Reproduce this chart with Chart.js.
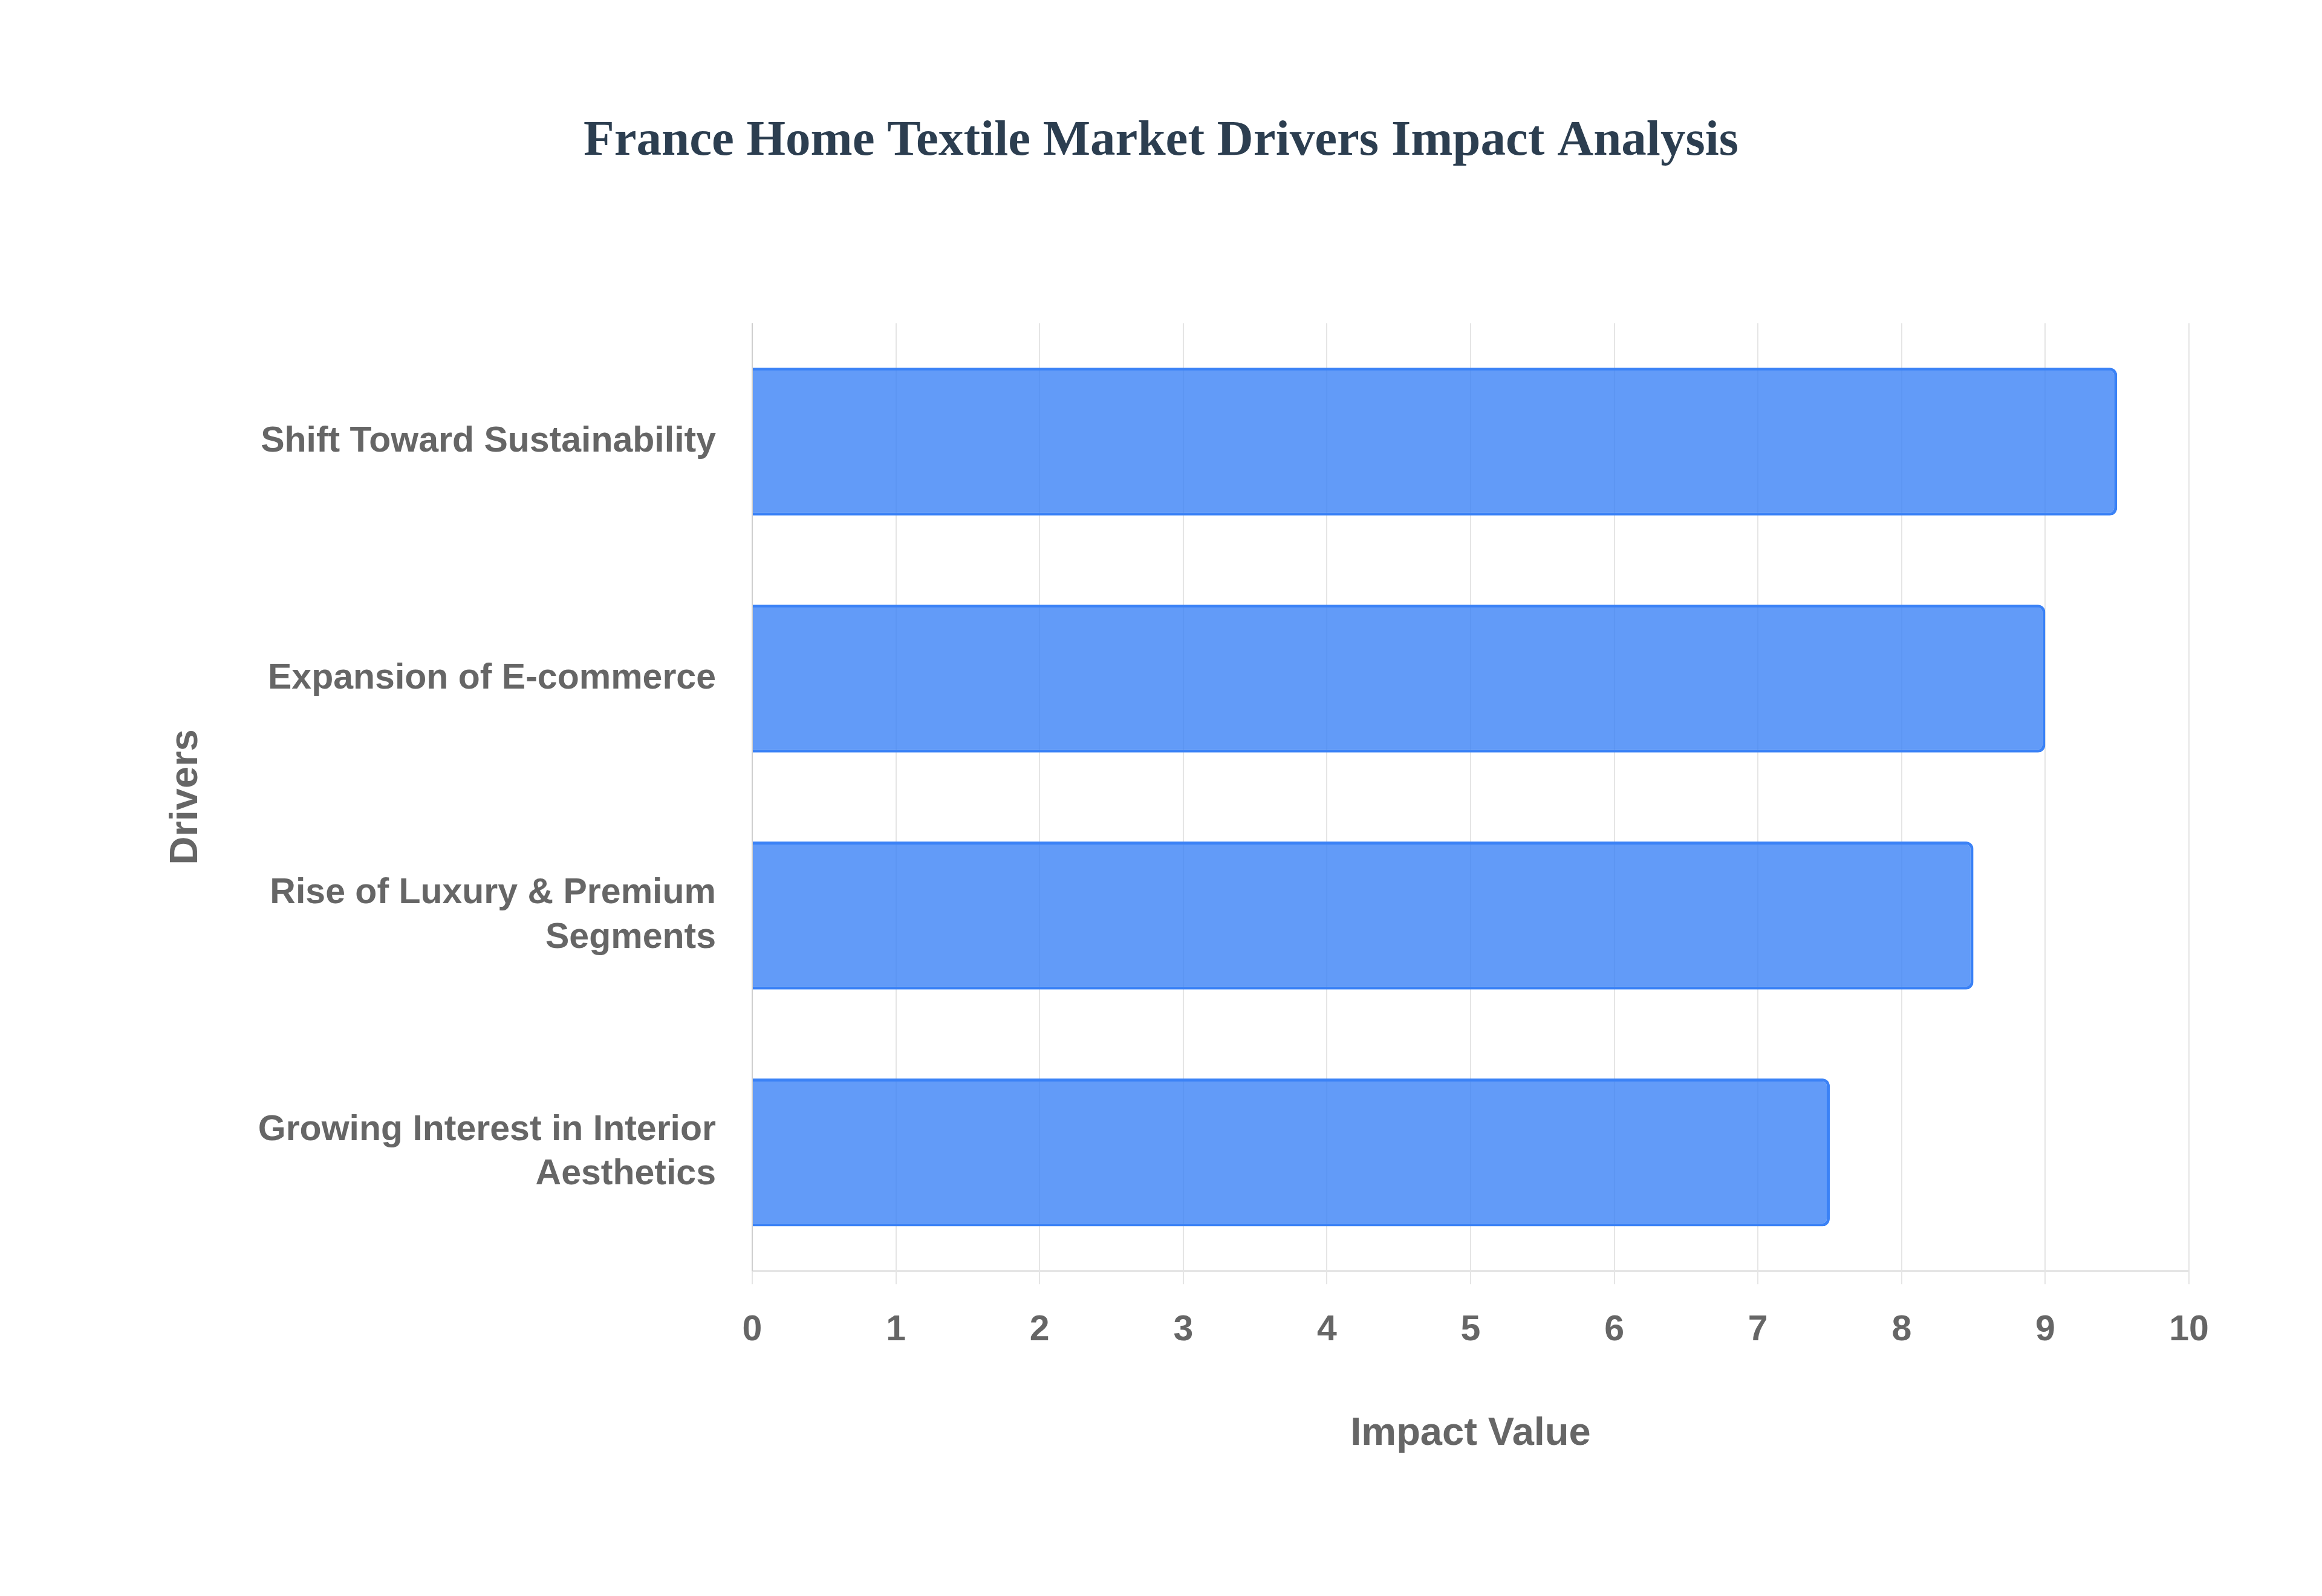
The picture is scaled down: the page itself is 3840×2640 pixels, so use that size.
<!DOCTYPE html>
<html>
<head>
<meta charset="utf-8">
<script src="https://cdn.jsdelivr.net/npm/chart.js@4.4.1/dist/chart.umd.min.js"></script>
<style>
  html, body { margin: 0; padding: 0; background: #ffffff; }
  #wrap { width: 3840px; height: 2640px; }
</style>
</head>
<body>
<div id="wrap"><canvas id="c" width="3840" height="2640"></canvas></div>
<script>
const titleText = "France Home Textile Market Drivers Impact Analysis";
const categories = [
  "Shift Toward Sustainability",
  ["Expansion of E-commerce"],
  ["Rise of Luxury & Premium", "Segments"],
  ["Growing Interest in Interior", "Aesthetics"]
];
const impactValues = [9.5, 9.0, 8.5, 7.5];
const xTickMin = 0;
const xTickMax = 10;
const xAxisTitle = "Impact Value";
const yAxisTitle = "Drivers";

const tickFont = { family: "'Liberation Sans', Arial, Helvetica, sans-serif", size: 59, weight: "bold", lineHeight: 1.25 };
const axisTitleFont = { family: "'Liberation Sans', Arial, Helvetica, sans-serif", size: 65, weight: "bold" };

new Chart(document.getElementById("c"), {
  type: "bar",
  data: {
    labels: categories,
    datasets: [{
      label: "Impact",
      data: impactValues,
      backgroundColor: "rgba(59,130,246,0.8)",
      borderColor: "rgb(59,130,246)",
      borderWidth: 5,
      borderRadius: 12,
      borderSkipped: "start",
      barPercentage: 0.78,
      categoryPercentage: 0.8
    }]
  },
  options: {
    indexAxis: "y",
    responsive: false,
    animation: false,
    devicePixelRatio: 1,
    layout: { padding: { left: 220, right: 220, top: 0, bottom: 219 } },
    plugins: {
      legend: { display: false },
      tooltip: { enabled: false },
      title: {
        display: true,
        text: titleText,
        color: "#2c3e50",
        font: { family: "'Liberation Serif', 'Times New Roman', serif", size: 83, weight: "bold" },
        padding: { top: 185, bottom: 250 }
      }
    },
    scales: {
      x: {
        min: xTickMin,
        max: xTickMax,
        ticks: { stepSize: 1, color: "#666666", font: tickFont, padding: 40 },
        grid: { color: "rgba(0,0,0,0.1)", lineWidth: 2, tickLength: 22 },
        border: { color: "rgba(0,0,0,0.1)", width: 3 },
        title: { display: true, text: xAxisTitle, color: "#666666", font: axisTitleFont, padding: { top: 55, bottom: 10 } }
      },
      y: {
        ticks: { color: "#666666", font: tickFont, padding: 60 },
        grid: { display: false, drawTicks: false },
        border: { display: true, color: "rgba(0,0,0,0.1)", width: 2 },
        title: { display: true, text: yAxisTitle, color: "#666666", font: axisTitleFont, padding: { top: 49, bottom: 10 } },
        afterFit: (scale) => { scale.width = 1024; }
      }
    }
  }
});
</script>
</body>
</html>
